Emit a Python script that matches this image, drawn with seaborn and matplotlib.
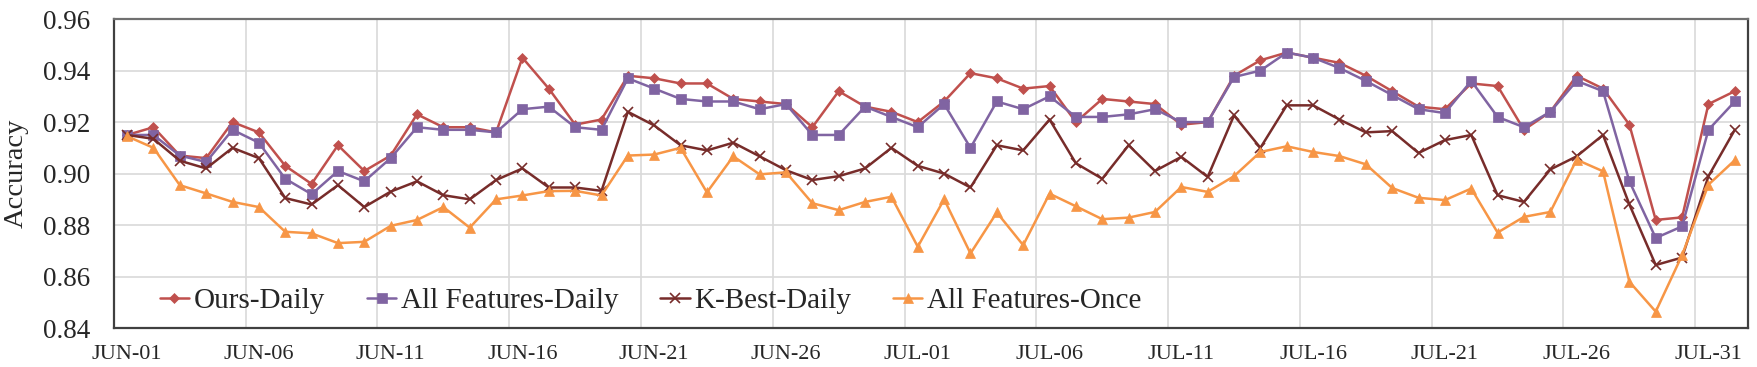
import numpy as np
import pandas as pd
import matplotlib
matplotlib.use('Agg')
import matplotlib.pyplot as plt
import seaborn as sns

# Datos (62 dias, JUN-01 .. AUG-01)
ours_daily = [0.915, 0.918, 0.907, 0.906, 0.920, 0.916, 0.903, 0.896, 0.911, 0.901,
              0.907, 0.923, 0.918, 0.918, 0.916, 0.945, 0.933, 0.919, 0.921, 0.938,
              0.937, 0.935, 0.935, 0.929, 0.928, 0.927, 0.918, 0.932, 0.926, 0.924,
              0.920, 0.928, 0.939, 0.937, 0.933, 0.934, 0.920, 0.929, 0.928, 0.927,
              0.919, 0.920, 0.938, 0.944, 0.947, 0.945, 0.943, 0.938, 0.932, 0.926,
              0.925, 0.935, 0.934, 0.917, 0.924, 0.938, 0.933, 0.919, 0.882, 0.883,
              0.927, 0.932]
all_daily = [0.915, 0.915, 0.907, 0.9045, 0.917, 0.912, 0.898, 0.892, 0.901, 0.897,
             0.906, 0.918, 0.917, 0.917, 0.916, 0.925, 0.926, 0.918, 0.917, 0.937,
             0.933, 0.929, 0.928, 0.928, 0.925, 0.927, 0.915, 0.915, 0.926, 0.922,
             0.918, 0.927, 0.910, 0.928, 0.925, 0.930, 0.922, 0.922, 0.923, 0.925,
             0.920, 0.920, 0.9375, 0.940, 0.947, 0.945, 0.941, 0.936, 0.9305, 0.925,
             0.9235, 0.936, 0.922, 0.918, 0.924, 0.936, 0.932, 0.897, 0.875, 0.8795,
             0.917, 0.928]
kbest_daily = [0.915, 0.9135, 0.905, 0.902, 0.910, 0.906, 0.8905, 0.888, 0.8955, 0.887,
               0.893, 0.897, 0.8916, 0.890, 0.8975, 0.902, 0.8946, 0.8946, 0.8933, 0.924,
               0.9187, 0.911, 0.909, 0.912, 0.9067, 0.9013, 0.8975, 0.899, 0.902, 0.910,
               0.903, 0.900, 0.8946, 0.911, 0.909, 0.921, 0.904, 0.898, 0.911, 0.901,
               0.9065, 0.8987, 0.9226, 0.910, 0.9265, 0.9265, 0.921, 0.916, 0.9165, 0.908,
               0.913, 0.915, 0.8916, 0.889, 0.9016, 0.9067, 0.915, 0.888, 0.8645, 0.8674,
               0.899, 0.917]
all_once = [0.9145, 0.910, 0.8955, 0.8923, 0.889, 0.887, 0.8774, 0.8768, 0.873, 0.8735,
            0.8797, 0.882, 0.887, 0.879, 0.890, 0.8915, 0.8932, 0.8933, 0.8915, 0.907,
            0.9074, 0.910, 0.8927, 0.9067, 0.8997, 0.9005, 0.8885, 0.8858, 0.889, 0.891,
            0.8716, 0.890, 0.869, 0.8849, 0.8722, 0.8922, 0.8873, 0.8823, 0.8829, 0.8851,
            0.8948, 0.8929, 0.899, 0.9084, 0.9106, 0.9084, 0.9068, 0.9036, 0.8944, 0.8906,
            0.8897, 0.8942, 0.8771, 0.8832, 0.8851, 0.9054, 0.9009, 0.858, 0.8464, 0.8683,
            0.8957, 0.9052]

tick_labels = ['JUN-01', 'JUN-06', 'JUN-11', 'JUN-16', 'JUN-21', 'JUN-26',
               'JUL-01', 'JUL-06', 'JUL-11', 'JUL-16', 'JUL-21', 'JUL-26', 'JUL-31']

series = [
    ('Ours-Daily', ours_daily, '#C0504D', 'D', 5),
    ('All Features-Daily', all_daily, '#8064A2', 's', 7),
    ('K-Best-Daily', kbest_daily, '#772C2A', 'x', 7),
    ('All Features-Once', all_once, '#F79646', '^', 7),
]

sns.set_style('white')
plt.rcParams['font.family'] = ['Liberation Serif', 'DejaVu Serif']

fig = plt.figure(figsize=(17.58, 3.67), dpi=100)
ax = fig.add_axes([0.0648, 0.106, 0.9295, 0.842])

days = np.arange(len(ours_daily))
for name, vals, color, marker, ms in series:
    df = pd.DataFrame({'day': days, 'acc': vals})
    sns.lineplot(data=df, x='day', y='acc', ax=ax, color=color, marker=marker,
                 markersize=ms, linewidth=1.8, label=name,
                 markeredgecolor=color, markeredgewidth=1.2 if marker == 'x' else 0.5)

ax.set_xlim(-0.5, len(days) - 0.5)
ax.set_ylim(0.84, 0.96)
yt = np.arange(0.84, 0.961, 0.02)
ax.set_yticks(yt)
ax.set_yticklabels([f'{v:.2f}' for v in yt], fontsize=19.5)
ax.set_xticks(np.arange(0, len(days), 5))
ax.set_xticklabels(tick_labels, fontsize=16)
ax.set_xticks(np.arange(4.5, len(days), 5), minor=True)
ax.tick_params(axis='both', which='both', length=0)
ax.tick_params(axis='y', pad=17)
ax.tick_params(axis='x', pad=12)

ax.grid(False)
ax.grid(axis='y', which='major', color='#D9D9D9', linewidth=1.2)
ax.grid(axis='x', which='minor', color='#D9D9D9', linewidth=1.2)
ax.set_axisbelow(True)

ax.set_xlabel('')
ax.set_ylabel('Accuracy', fontsize=20.5, labelpad=10)
for sp in ax.spines.values():
    sp.set_color('#404040')
    sp.set_linewidth(1.6)
ax.spines['top'].set_color('#707070')

ax.legend(loc='lower left', ncol=4, frameon=False, fontsize=21,
          bbox_to_anchor=(0.012, -0.04), handlelength=1.0, handletextpad=0.15,
          columnspacing=1.45)

plt.savefig('out.png', dpi=100)
